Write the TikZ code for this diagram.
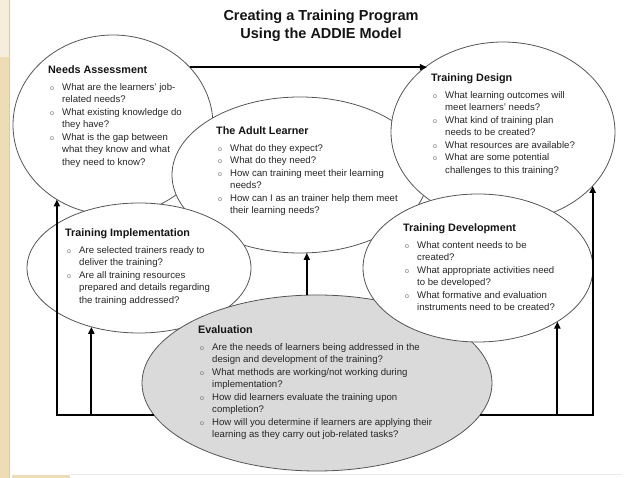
\documentclass[tikz,border=0pt]{standalone}
\usepackage{fontspec}
\setmainfont{Liberation Sans}
\usetikzlibrary{arrows.meta,shapes.geometric}
\definecolor{beige}{HTML}{EEDCB5}
\definecolor{beigelight}{HTML}{F6EEDC}
\definecolor{ellgray}{HTML}{555555}
\definecolor{evfill}{HTML}{DADADA}
\definecolor{bodygray}{HTML}{262626}
\definecolor{headgray}{HTML}{141414}
\definecolor{bulletgray}{HTML}{707070}
\newlength{\bw}\setlength{\bw}{14pt}
\newcommand{\bl}{\makebox[\bw][l]{\hspace{2pt}\textcolor{bulletgray}{\fontsize{7}{7}\selectfont o}}}
\newcommand{\ct}{\makebox[\bw]{}}
\newcommand{\hd}[1]{{\fontsize{10.8}{12.5}\selectfont\bfseries\color{headgray}#1}}
\tikzset{
  ell/.style={ellipse, draw=ellgray, line width=0.8pt, fill=white, inner sep=0pt, outer sep=0pt},
  txt/.style={font=\fontsize{9.6}{12.5}\selectfont, text=bodygray, inner sep=0pt, anchor=base west},
  arr/.style={line width=2pt, black, -{Triangle[length=7pt,width=6pt]}},
  ttl/.style={font=\fontsize{14.5}{18}\selectfont\bfseries, text=headgray, inner sep=0pt, anchor=base}
}
\begin{document}
\begin{tikzpicture}[x=1pt,y=-1pt]
\useasboundingbox (0,0) rectangle (638,478);
\fill[white] (0,0) rectangle (638,478);
% left decorative strip
\fill[beige] (0,0) rectangle (10,478);
\fill[beigelight] (0,0) rectangle (9,57);
\draw[beige!80!black, line width=0.4pt, opacity=0.4] (9.5,0) -- (9.5,478);
\fill[beige] (12,475) rectangle (70,478);
\draw[black!8, line width=0.8pt] (70,474) -- (622,474);

% title
\node[ttl] (t1) at (321,21) {Creating a Training Program};
\node[ttl] (t2) at (321,39) {Using the ADDIE Model};

% ellipses (back to front)
\node[ell, minimum width=200pt, minimum height=180pt] (na) at (113,125) {};
\node[ell, minimum width=256pt, minimum height=156pt] (al) at (300,175) {};
\node[ell, minimum width=224pt, minimum height=180pt] (td) at (503,132) {};
\node[ell, minimum width=224pt, minimum height=130pt] (ti) at (139,268) {};
\node[ell, minimum width=350pt, minimum height=176pt, fill=evfill] (ev) at (317,383) {};
\node[ell, minimum width=230pt, minimum height=148pt] (tdv) at (478,268) {};

% texts
\node[txt] (tna) at (48,74) {\begin{tabular}[t]{@{}l@{}}
\hd{Needs Assessment}\\[4pt]
\bl What are the learners' job-\\
\ct related needs?\\
\bl What existing knowledge do\\
\ct they have?\\
\bl What is the gap between\\
\ct what they know and what\\
\ct they need to know?
\end{tabular}};

\node[txt] (tal) at (216,135) {\begin{tabular}[t]{@{}l@{}}
\hd{The Adult Learner}\\[4pt]
\bl What do they expect?\\
\bl What do they need?\\
\bl How can training meet their learning\\
\ct needs?\\
\bl How can I as an trainer help them meet\\
\ct their learning needs?
\end{tabular}};

\node[txt] (ttd) at (431,82) {\begin{tabular}[t]{@{}l@{}}
\hd{Training Design}\\[4pt]
\bl What learning outcomes will\\
\ct meet learners' needs?\\
\bl What kind of training plan\\
\ct needs to be created?\\
\bl What resources are available?\\
\bl What are some potential\\
\ct challenges to this training?
\end{tabular}};

\node[txt] (tti) at (65,237) {\begin{tabular}[t]{@{}l@{}}
\hd{Training Implementation}\\[4pt]
\bl Are selected trainers ready to\\
\ct deliver the training?\\
\bl Are all training resources\\
\ct prepared and details regarding\\
\ct the training addressed?
\end{tabular}};

\node[txt] (ttdv) at (403,232) {\begin{tabular}[t]{@{}l@{}}
\hd{Training Development}\\[4pt]
\bl What content needs to be\\
\ct created?\\
\bl What appropriate activities need\\
\ct to be developed?\\
\bl What formative and evaluation\\
\ct instruments need to be created?
\end{tabular}};

\node[txt] (tev) at (198,334) {\begin{tabular}[t]{@{}l@{}}
\hd{Evaluation}\\[4pt]
\bl Are the needs of learners being addressed in the\\
\ct design and development of the training?\\
\bl What methods are working/not working during\\
\ct implementation?\\
\bl How did learners evaluate the training upon\\
\ct completion?\\
\bl How will you determine if learners are applying their\\
\ct learning as they carry out job-related tasks?
\end{tabular}};

% connectors
\draw[arr] (na.37) -- (na.37 -| td.139);
\draw[arr] (ev.191) -- (na.233 |- ev.191) -- (na.233);
\draw[arr] (ti.231 |- ev.191) -- (ti.231);
\draw[arr] (al.275 |- ev.north) -- (al.275);
\draw[arr] (ev.349) -- (td.329 |- ev.349) -- (td.329);
\draw[arr] (tdv.326 |- ev.349) -- (tdv.326);
\end{tikzpicture}
\end{document}
